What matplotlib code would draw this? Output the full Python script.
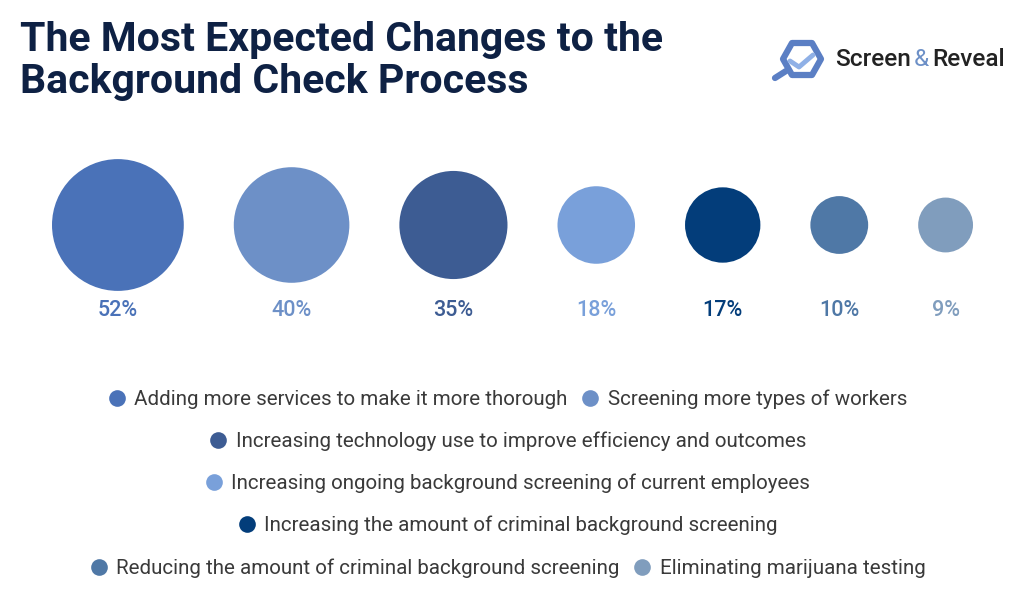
import numpy as np
import matplotlib
matplotlib.use('Agg')
import matplotlib.pyplot as plt
from matplotlib.patches import Circle, Polygon
from matplotlib.lines import Line2D

plt.rcParams['font.family'] = ['Roboto', 'DejaVu Sans']

# data
categories = [
    'Adding more services to make it more thorough',
    'Screening more types of workers',
    'Increasing technology use to improve efficiency and outcomes',
    'Increasing ongoing background screening of current employees',
    'Increasing the amount of criminal background screening',
    'Reducing the amount of criminal background screening',
    'Eliminating marijuana testing',
]
values = [52, 40, 35, 18, 17, 10, 9]
colors = ['#4a72b8', '#6d90c7', '#3d5c93', '#79a0da', '#033d7a', '#4f78a6', '#809dbd']
legend_rows = [[0, 1], [2], [3], [4], [5, 6]]

W, H = 1024, 607
fig = plt.figure(figsize=(W / 100, H / 100), dpi=100)
ax = fig.add_axes([0, 0, 1, 1])
ax.set_xlim(0, W)
ax.set_ylim(H, 0)
ax.set_aspect('equal')
ax.axis('off')
renderer = fig.canvas.get_renderer()

# title
fig.text(20 / W, 1 - 40 / H, 'The Most Expected Changes to the', fontsize=29.5,
         fontweight='bold', color='#0e2144', va='center', ha='left')
fig.text(20 / W, 1 - 82 / H, 'Background Check Process', fontsize=29.5,
         fontweight='bold', color='#0e2144', va='center', ha='left')

# logo
hexagon = Polygon([[792, 43], [812, 43], [821, 59], [812, 75], [792, 75], [783, 59]],
                  closed=True, fill=False, edgecolor='#5b7fc4', linewidth=4.5, joinstyle='round')
ax.add_patch(hexagon)
ax.plot([790, 799, 813], [61, 67, 55], color='#8fb0e6', lw=3.5, solid_capstyle='round')
ax.plot([786, 775], [71, 78], color='#5b7fc4', lw=4.5, solid_capstyle='round')
x_logo = 835
for word, c, fw in [('Screen', '#222222', 'medium'), ('&', '#6d90c7', 'normal'), ('Reveal', '#222222', 'medium')]:
    t = ax.text(x_logo, 60, word, fontsize=17.6, fontweight=fw, color=c, va='center', ha='left')
    bb = t.get_window_extent(renderer)
    x_logo += bb.width + 3

# bubbles: area proportional to value, constant gap
scale = 83.5
radii = [np.sqrt(scale * v) for v in values]
x = 52
cy = 225
for v, r, c in zip(values, radii, colors):
    cx = x + r
    ax.add_patch(Circle((cx, cy), r, color=c, lw=0))
    ax.text(cx, 310, f'{v}%', fontsize=15.5, fontweight='medium', color=c, ha='center', va='center')
    x = cx + r + 50

# legend rows
row_y = [399, 441, 483, 525, 568]
for row, y in zip(legend_rows, row_y):
    handles = [Line2D([], [], marker='o', ls='', markersize=12, markerfacecolor=colors[i],
                      markeredgewidth=0) for i in row]
    labels = [categories[i] for i in row]
    leg = fig.legend(handles, labels, loc='center', bbox_to_anchor=(506 / W, 1 - y / H),
                     ncol=len(row), frameon=False, fontsize=14.8, handletextpad=0.25,
                     columnspacing=0.5, handlelength=1.2, borderaxespad=0)
    for t in leg.get_texts():
        t.set_color('#3a3a3a')

fig.savefig('out.png', dpi=100, facecolor='white')
